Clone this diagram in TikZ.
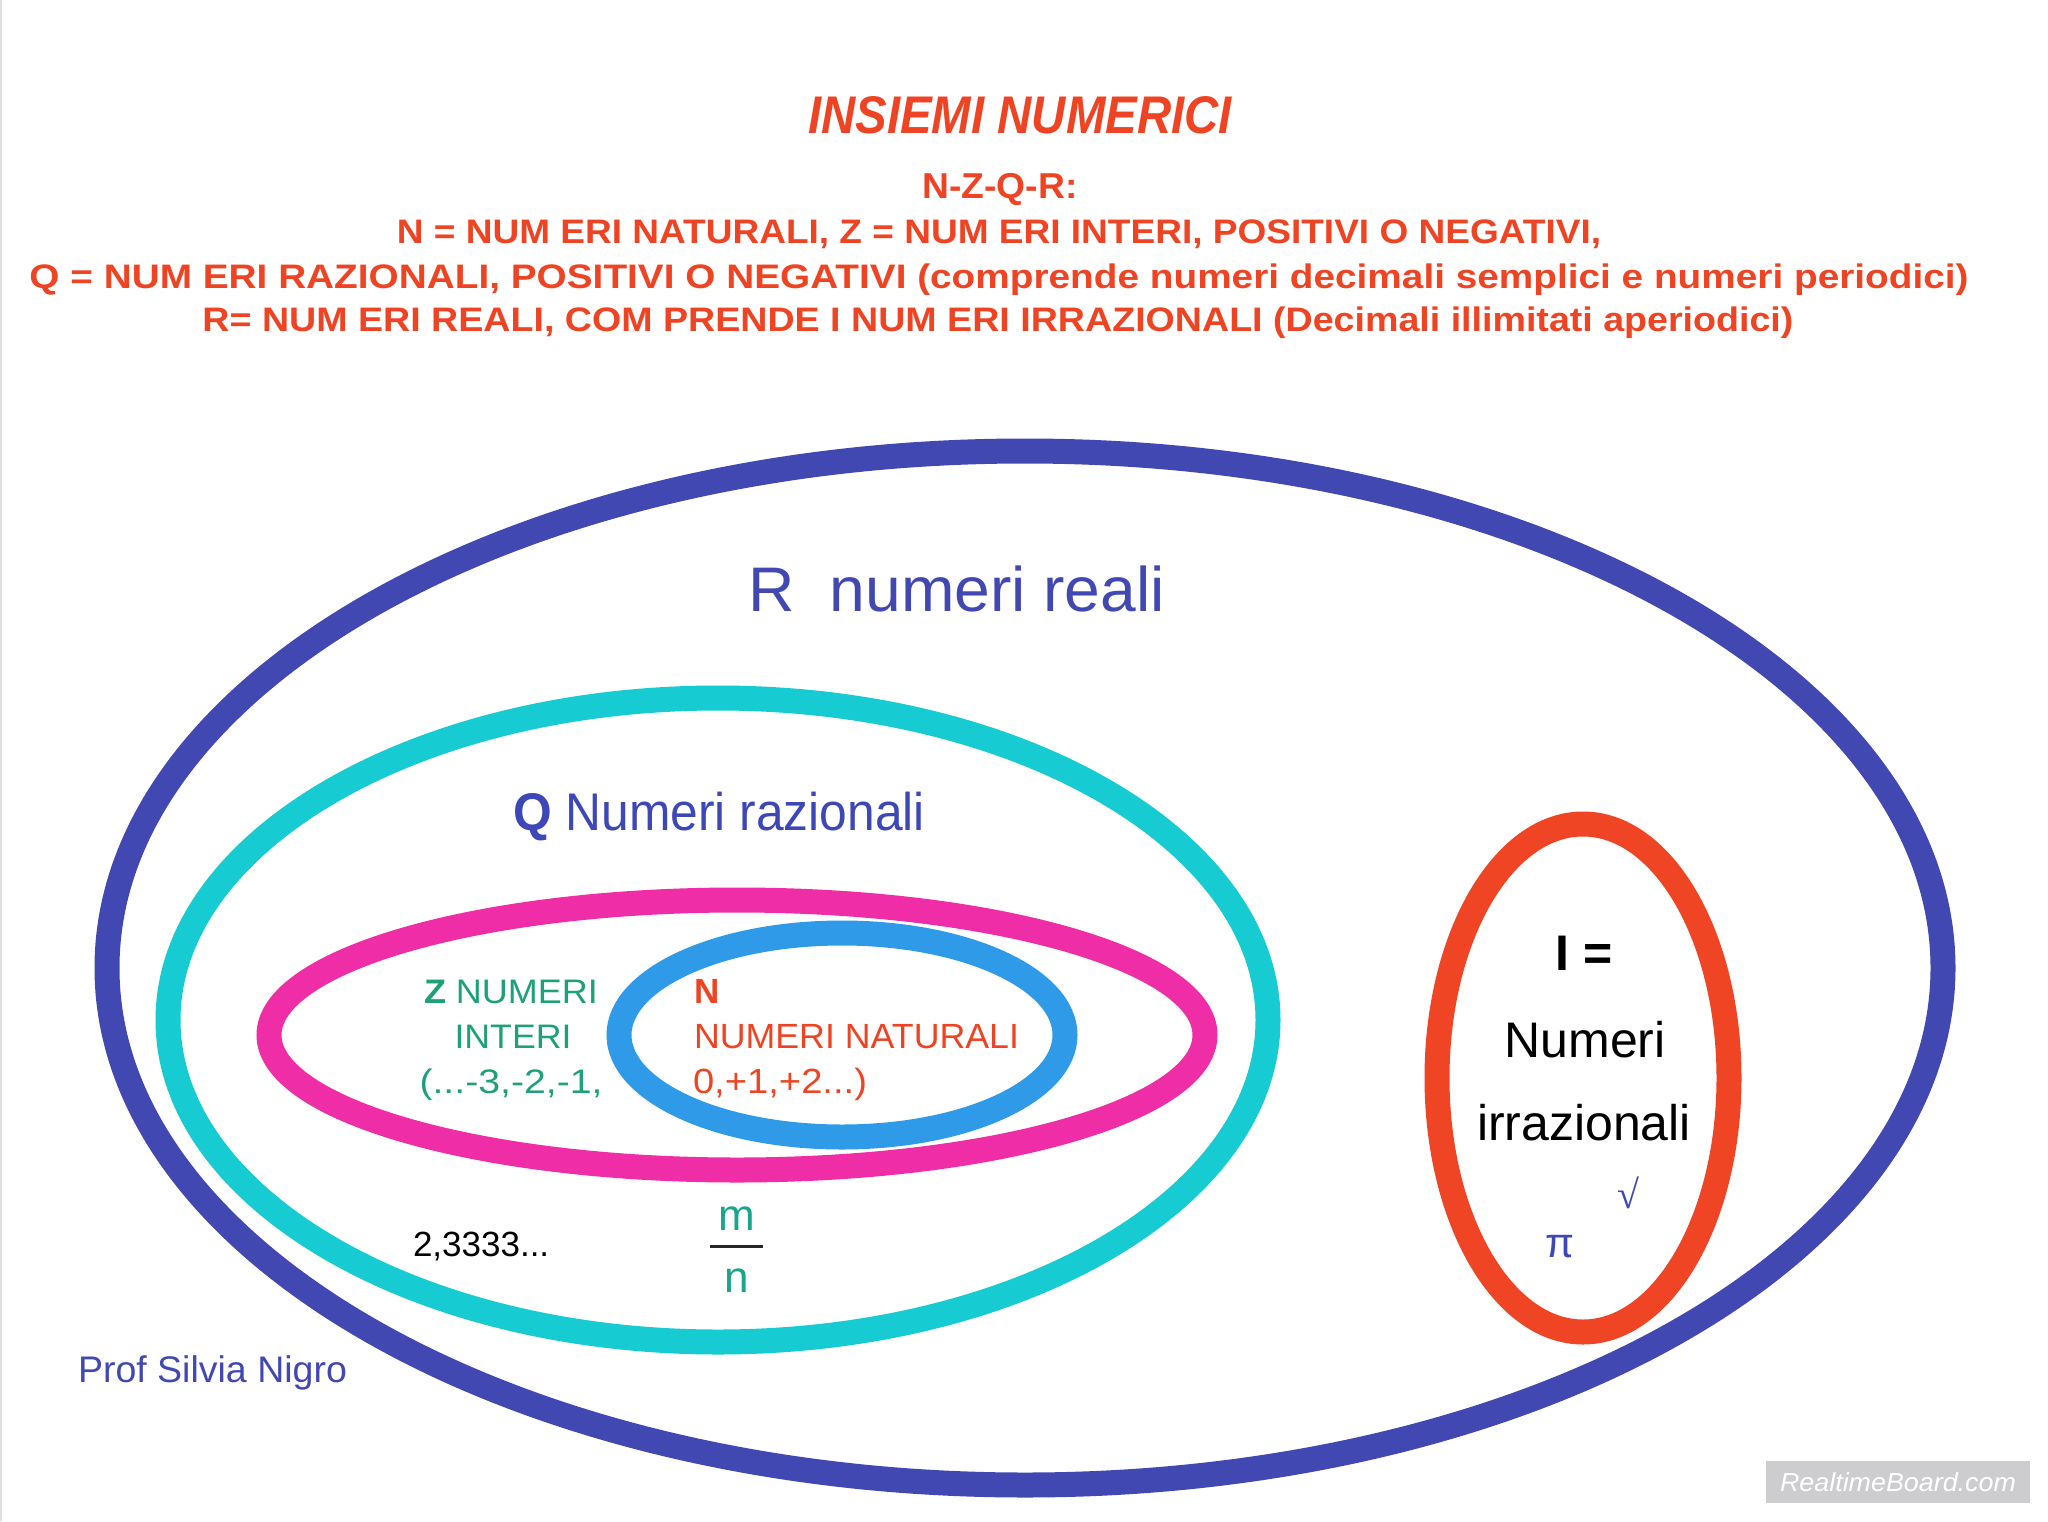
\documentclass[tikz,border=0pt]{standalone}
\usepackage{fontspec}
\usepackage{graphicx}
\setmainfont{Liberation Sans}
\newfontfamily\serifalt{Liberation Serif}
\newcommand{\fsz}[1]{\fontsize{#1}{#1}\selectfont}
\definecolor{hdr}{RGB}{239,68,35}
\definecolor{rblue}{RGB}{66,72,178}
\definecolor{qcyan}{RGB}{22,204,210}
\definecolor{zmag}{RGB}{238,45,166}
\definecolor{nblue}{RGB}{46,154,232}
\definecolor{ired}{RGB}{239,69,37}
\definecolor{zgreen}{RGB}{30,160,122}
\definecolor{mgreen}{RGB}{25,165,138}
\definecolor{lblue}{RGB}{61,71,181}
\definecolor{wmgray}{RGB}{205,205,207}
\begin{document}
\begin{tikzpicture}[x=1pt,y=-1pt,
  ring/.style={line width=25pt},
  txt/.style={inner sep=0pt, outer sep=0pt}]
\useasboundingbox (0,0) rectangle (2048,1521);
\fill[white] (0,0) rectangle (2048,1521);
\draw[black!12, line width=2pt] (1,0) -- (1,1521);

% rings
\draw[ring, rblue] (1025,968) ellipse [x radius=918pt, y radius=517pt];
\draw[ring, qcyan] (718,1020) ellipse [x radius=550pt, y radius=322pt];
\draw[ring, zmag] (737,1035) ellipse [x radius=468pt, y radius=135pt];
\draw[ring, nblue] (842,1035) ellipse [x radius=223pt, y radius=102pt];
\draw[ring, ired] (1583,1078) ellipse [x radius=146pt, y radius=254pt];

% header
\node[txt, anchor=base, text=hdr] (title) at (1020,133)
  {\resizebox{424pt}{\height}{\fsz{53}\bfseries\itshape INSIEMI NUMERICI}};
\node[txt, anchor=base, text=hdr] (nzqr) at (1000,198)
  {\resizebox{155pt}{\height}{\fsz{36}\bfseries N-Z-Q-R:}};
\node[txt, anchor=base, text=hdr] (line3) at (999,243)
  {\resizebox{1204pt}{\height}{\fsz{34}\bfseries N = NUM ERI NATURALI, Z = NUM ERI INTERI, POSITIVI O NEGATIVI,}};
\node[txt, anchor=base, text=hdr] (line4) at (999,288)
  {\resizebox{1939pt}{\height}{\fsz{34}\bfseries Q = NUM ERI RAZIONALI, POSITIVI O NEGATIVI (comprende numeri decimali semplici e numeri periodici)}};
\node[txt, anchor=base, text=hdr] (line5) at (998,331)
  {\resizebox{1591pt}{\height}{\fsz{34}\bfseries R= NUM ERI REALI, COM PRENDE I NUM ERI IRRAZIONALI (Decimali illimitati aperiodici)}};

% R label
\node[txt, anchor=base west, text=rblue] (rlab) at (748,611)
  {\resizebox{417pt}{\height}{\fsz{63}R\hspace{0.55em}numeri reali}};
% Q label
\node[txt, anchor=base west, text=lblue] (qlab) at (513,830)
  {\resizebox{412pt}{\height}{\fsz{53}\textbf{Q} Numeri razionali}};

% Z label
\node[txt, anchor=base, text=zgreen] (z1) at (511,1003) {\resizebox{174pt}{\height}{\fsz{34}\textbf{Z} NUMERI}};
\node[txt, anchor=base, text=zgreen] (z2) at (513,1048) {\resizebox{117pt}{\height}{\fsz{34}INTERI}};
\node[txt, anchor=base, text=zgreen] (z3) at (511,1093) {\resizebox{183pt}{\height}{\fsz{34}(...-3,-2,-1,}};

% N label
\node[txt, anchor=base west, text=hdr] (n1) at (694,1003) {\fsz{35}\textbf{N}};
\node[txt, anchor=base west, text=hdr] (n2) at (694,1048) {\resizebox{325pt}{\height}{\fsz{35}NUMERI NATURALI}};
\node[txt, anchor=base west, text=hdr] (n3) at (693,1093) {\resizebox{174pt}{\height}{\fsz{35}0,+1,+2...)}};

% rational examples
\node[txt, anchor=base west, text=black] (dec) at (413,1256) {\fsz{35}2,3333...};
\node[txt, anchor=base, text=mgreen] (fm) at (737,1230) {\fsz{44}m};
\node[txt, anchor=base, text=mgreen] (fn) at (737,1292) {\fsz{44}n};
\draw[line width=3pt, black!85] (710,1246) -- (763,1246);

% irrational label
\node[txt, anchor=base, text=black] (i1) at (1584,970) {\fsz{50}\textbf{I =}};
\node[txt, anchor=base, text=black] (i2) at (1585,1057) {\fsz{50}Numeri};
\node[txt, anchor=base, text=black] (i3) at (1584,1140) {\fsz{50}irrazionali};
\node[txt, anchor=base, text=lblue] (pi) at (1560,1257) {\fsz{42}π};
\node[txt, anchor=base, text=lblue] (sq) at (1628,1208) {\serifalt\fsz{40}√};

% author
\node[txt, anchor=base west, text=rblue] (auth) at (78,1382)
  {\resizebox{269pt}{\height}{\fsz{37}Prof Silvia Nigro}};

% watermark
\fill[wmgray] (1766,1461) rectangle (2030,1503);
\node[txt, text=white] (wm) at (1898,1482)
  {\resizebox{236pt}{\height}{\fsz{26}\itshape RealtimeBoard.com}};
\end{tikzpicture}
\end{document}
